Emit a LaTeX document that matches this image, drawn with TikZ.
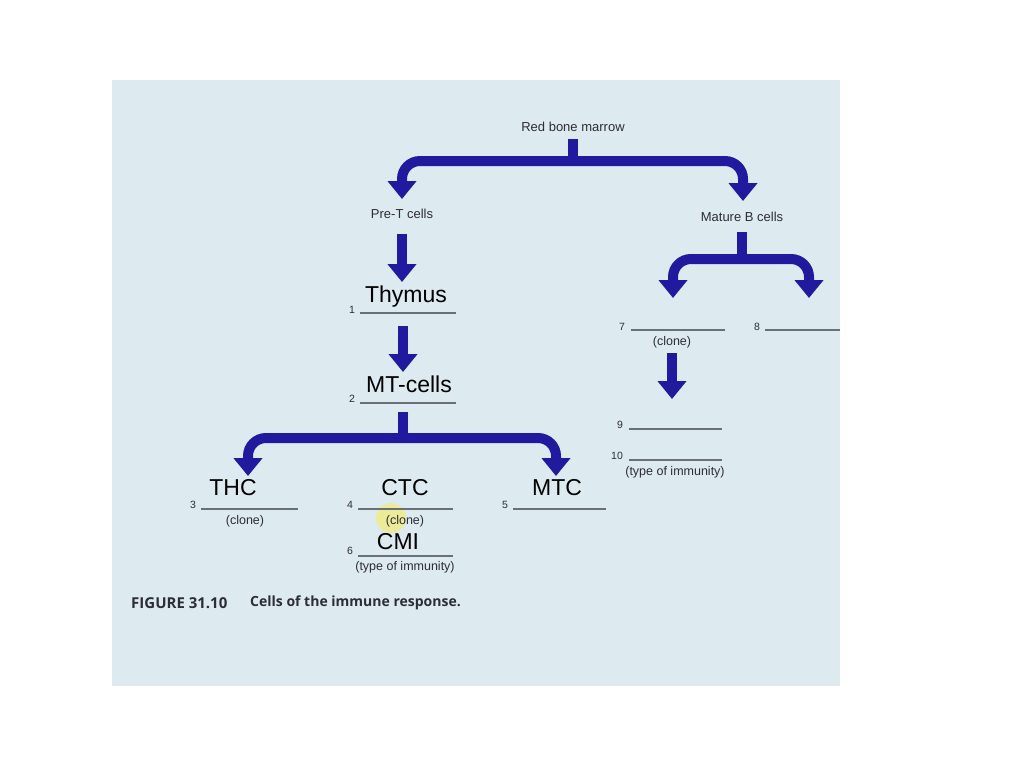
\documentclass[tikz,border=0pt]{standalone}
\usepackage{fontspec}
\setmainfont{Liberation Sans}
\newfontfamily\capfont{Open Sans}
\usetikzlibrary{arrows.meta}
\definecolor{paper}{RGB}{221,234,240}
\definecolor{arrowblue}{RGB}{33,26,158}
\definecolor{rulegrey}{RGB}{105,112,118}
\definecolor{printgrey}{RGB}{45,45,52}
\definecolor{hilite}{RGB}{238,236,140}
\tikzset{
  lbl/.style={font=\fontsize{13}{13}\selectfont, text=printgrey, inner sep=0pt},
  sublbl/.style={font=\fontsize{12.5}{12}\selectfont, text=printgrey, inner sep=0pt},
  num/.style={font=\fontsize{10.5}{10}\selectfont, text=printgrey, inner sep=0pt},
  hand/.style={font=\fontsize{23}{23}\selectfont, text=black, inner sep=0pt},
  shaft/.style={draw=arrowblue, line width=10pt},
  downarrow/.style={shaft, -{Triangle[width=28pt,length=18pt]}},
  forkarrow/.style={shaft, {Triangle[width=28pt,length=18pt]}-{Triangle[width=28pt,length=18pt]}, rounded corners=18pt},
  blank/.style={draw=rulegrey, line width=1.8pt},
  caption/.style={font=\capfont\bfseries\fontsize{14}{14}\selectfont, text=printgrey, inner sep=0pt, anchor=west}
}
\begin{document}
\begin{tikzpicture}[x=1pt,y=-1pt]
\useasboundingbox (0,0) rectangle (1024,768);
\fill[white] (0,0) rectangle (1024,768);
\fill[paper] (112,80) rectangle (840,686);

% highlight circle
\fill[hilite, opacity=0.85] (391,518) circle (15);

% printed labels
\node[lbl] (rbm) at (573,127) {Red bone marrow};
\node[lbl] (pret) at (402,214) {Pre-T cells};
\node[lbl] (matb) at (742,217) {Mature B cells};

% top fork
\coordinate (rbmstem) at (573,139);
\coordinate (rbmbar) at (573,161);
\coordinate (pretip) at (402,199);
\coordinate (matbtip) at (743,201);
\draw[shaft] (rbmstem) -- (rbmbar);
\draw[forkarrow] (pretip) -- (pretip |- rbmbar) -- (matbtip |- rbmbar) -- (matbtip);

% T branch
\coordinate (pretout) at (402,234);
\coordinate (thytip) at (402,282);
\draw[downarrow] (pretout) -- (thytip);

\node[num] (n1) at (352,310) {1};
\draw[blank] (360,313) -- (456,313);
\node[hand] (thymus) at (406,297) {Thymus};

\coordinate (thyout) at (403,326);
\coordinate (mttip) at (403,372);
\draw[downarrow] (thyout) -- (mttip);

\node[num] (n2) at (352,399) {2};
\draw[blank] (360,403) -- (456,403);
\node[hand] (mtcells) at (409,384) {MT-cells};

% lower fork
\coordinate (mtstem) at (403,412);
\coordinate (mtbar) at (403,438);
\coordinate (thctip) at (248,476);
\coordinate (mtctip) at (556,476);
\draw[shaft] (mtstem) -- (mtbar);
\draw[forkarrow] (thctip) -- (thctip |- mtbar) -- (mtctip |- mtbar) -- (mtctip);

\node[num] (n3) at (193,505) {3};
\draw[blank] (201,509) -- (298,509);
\node[sublbl] (clone3) at (245,521) {(clone)};
\node[hand] (thc) at (233,488) {THC};

\node[num] (n4) at (350,505) {4};
\draw[blank] (358,509) -- (453,509);
\node[sublbl] (clone4) at (405,521) {(clone)};
\node[hand] (ctc) at (405,488) {CTC};

\node[num] (n5) at (505,505) {5};
\draw[blank] (513,509) -- (606,509);
\node[hand] (mtc) at (557,488) {MTC};

\node[num] (n6) at (350,551) {6};
\draw[blank] (358,556) -- (453,556);
\node[sublbl] (immun6) at (405,567) {(type of immunity)};
\node[hand] (cmi) at (398,542) {CMI};

% B branch
\coordinate (matbout) at (742,232);
\coordinate (bbar) at (742,259);
\coordinate (b7tip) at (673,298);
\coordinate (b8tip) at (809,298);
\draw[shaft] (matbout) -- (bbar);
\draw[forkarrow] (b7tip) -- (b7tip |- bbar) -- (b8tip |- bbar) -- (b8tip);

\node[num] (n7) at (622,327) {7};
\draw[blank] (631,330) -- (725,330);
\node[sublbl] (clone7) at (672,342) {(clone)};

\node[num] (n8) at (757,327) {8};
\draw[blank] (765,330) -- (840,330);

\coordinate (b7out) at (672,353);
\coordinate (b9tip) at (672,399);
\draw[downarrow] (b7out) -- (b9tip);

\node[num] (n9) at (620,425) {9};
\draw[blank] (629,429) -- (722,429);

\node[num] (n10) at (617,456) {10};
\draw[blank] (629,460) -- (722,460);
\node[sublbl] (immun10) at (675,472) {(type of immunity)};

% caption
\node[caption, font=\capfont\bfseries\fontsize{15}{15}\selectfont] (figno) at (131,603) {FIGURE 31.10};
\node[caption] (figtxt) at (250,603) {Cells of the immune response.};
\end{tikzpicture}
\end{document}
